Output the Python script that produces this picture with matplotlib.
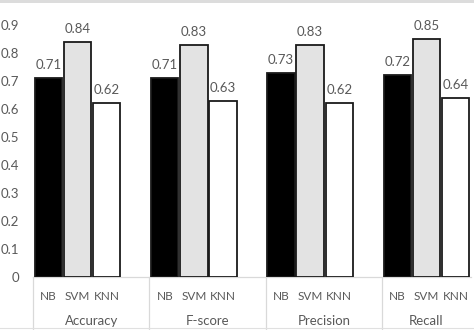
import matplotlib
matplotlib.use('Agg')
import matplotlib.pyplot as plt
import numpy as np
from matplotlib.transforms import blended_transform_factory

plt.rcParams['font.family'] = ['Lato', 'DejaVu Sans']

# data
metrics = ['Accuracy', 'F-score', 'Precision', 'Recall']
models = ['NB', 'SVM', 'KNN']
nb = [0.71, 0.71, 0.73, 0.72]
svm = [0.84, 0.83, 0.83, 0.85]
knn = [0.62, 0.63, 0.62, 0.64]
colors = ['#000000', '#e3e3e3', '#ffffff']
txt = '#595959'

fig = plt.figure(figsize=(4.74, 3.30), dpi=100)
ax = fig.add_axes([33/474, 1-277/330, 438/474, 252/330])

x = np.arange(len(metrics))
step = 0.25
w = 0.235
for i, (vals, c) in enumerate(zip([nb, svm, knn], colors)):
    pos = x + 0.133 + i*step
    bars = ax.bar(pos, vals, width=w, color=c, edgecolor='#1a1a1a', linewidth=1.3, zorder=3)
    for b, v in zip(bars, vals):
        ax.annotate(f'{v:.2f}', (b.get_x()+b.get_width()/2, v), xytext=(0, 5),
                    textcoords='offset points', ha='center', va='bottom',
                    fontsize=9.5, color=txt, annotation_clip=False)

ax.set_xlim(0, 438/116.3)
ax.set_ylim(0, 0.9)
ax.set_yticks(np.arange(0, 0.91, 0.1))
ax.set_yticklabels(['0'] + [f'{v:.1f}' for v in np.arange(0.1, 0.91, 0.1)])
ax.tick_params(axis='y', length=0, pad=10, labelcolor=txt, labelsize=9.5)
ax.set_xticks([])
for s in ax.spines.values():
    s.set_visible(False)

# excel-style two level category axis
tr = blended_transform_factory(ax.transData, ax.transAxes)
depth = 52/252
ax.plot([0, ax.get_xlim()[1]], [0, 0], transform=tr, color='#d9d9d9', lw=0.9, clip_on=False)
for g in range(len(metrics)):
    ax.plot([g, g], [0, -depth], transform=tr, color='#d9d9d9', lw=0.9, clip_on=False)
    for i, m in enumerate(models):
        ax.text(g + 0.133 + i*step, -20/252, m, transform=tr, ha='center', va='center',
                fontsize=8.5, color=txt)
    right = min(g + 1, ax.get_xlim()[1])
    ax.text((g + right)/2, -44/252, metrics[g], transform=tr, ha='center', va='center',
            fontsize=9.5, color=txt)

# thin frame bits seen in the image
fig.add_artist(plt.Rectangle((0, 1-3/330), 1, 3/330, transform=fig.transFigure,
                             color='#dcdcdc', lw=0))
fig.add_artist(plt.Line2D([0, 1], [2/330, 2/330], transform=fig.transFigure,
                          color='#e0e0e0', lw=0.8))

fig.savefig('out.png', dpi=100)
